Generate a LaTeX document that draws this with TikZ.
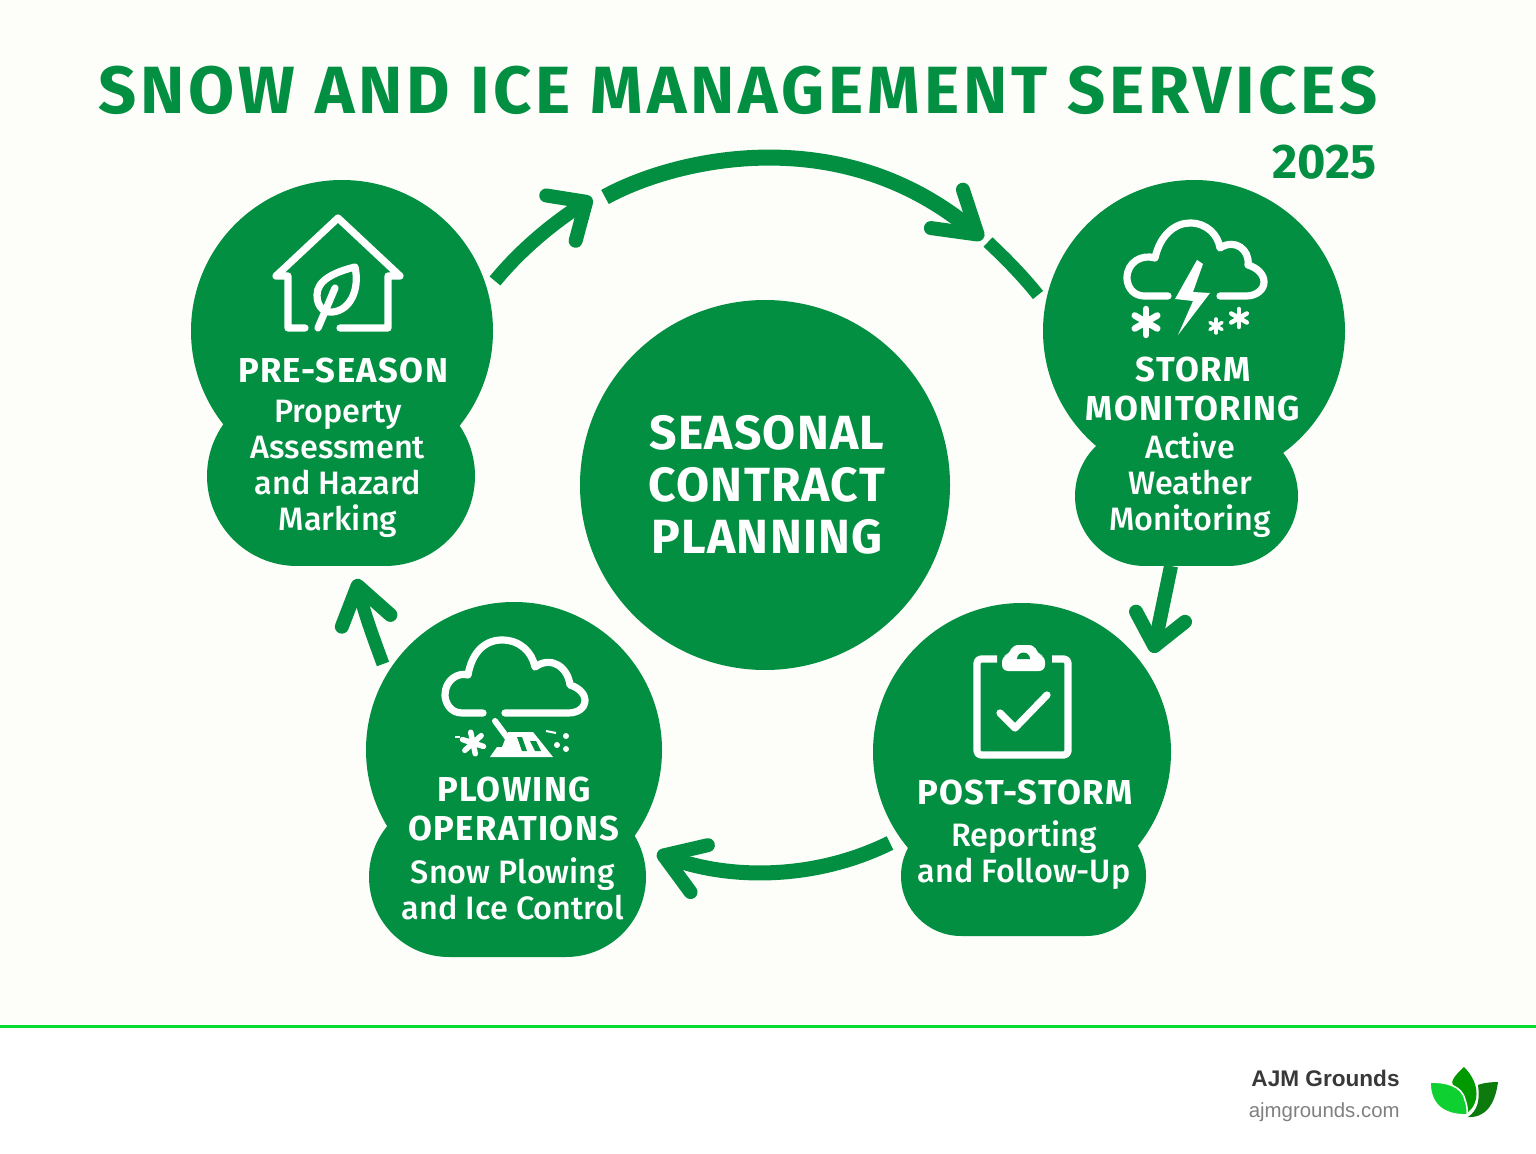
\documentclass[tikz,border=0pt]{standalone}
\usepackage{fontspec}
\setmainfont{Fira Sans}
\newfontfamily\bodyfont{Fira Sans Medium}
\newfontfamily\footfont{Liberation Sans}
\newfontfamily\titlefont[LetterSpace=5.9]{Fira Sans}
\newfontfamily\headfont[LetterSpace=4]{Fira Sans}
\newfontfamily\hubfont[LetterSpace=2.5]{Fira Sans}
\usepackage{xcolor}
\usetikzlibrary{arrows.meta,shapes}

\definecolor{leaf}{RGB}{2,143,66}
\definecolor{paper}{RGB}{253,253,249}
\definecolor{rule}{RGB}{5,222,48}

\tikzset{
	disc/.style={circle,fill=leaf,inner sep=0pt,minimum size=#1*0.5pt},
	lobe/.style n args={3}{rectangle,fill=leaf,inner sep=0pt,minimum width=#1*0.5pt,minimum height=#2*0.5pt,rounded corners=#3*0.5pt},
	head/.style={text=white,align=center,font=\fontsize{17.3}{19.2}\selectfont\headfont\bfseries},
	body/.style={text=white,align=center,font=\fontsize{16.2}{18}\selectfont\bodyfont},
	flow/.style={draw=leaf,line width=#1},
	flow/.default=7pt,
	tip/.style 2 args={-{Straight Barb[length=#1pt,width=#2pt,round,line width=7pt]}},
	icon/.style={draw=white,line width=3.6pt,line cap=round,line join=round},
	flake/.pic={\foreach \a in {90,30,150}{\draw[white,line width=#1*0.25pt,line cap=round] (\a:#1*1.0) -- (\a+180:#1*1.0);}},
}

\begin{document}
\begin{tikzpicture}[x=0.5pt,y=-0.5pt]
	\useasboundingbox (0,0) rectangle (1536,1154);
	\fill[paper] (0,0) rectangle (1536,1026);
	\fill[rule] (0,1024.5) rectangle (1536,1027.5);
	%
	\node[anchor=base west,text=leaf,font=\fontsize{33.4}{36}\selectfont\titlefont\bfseries,inner sep=0pt] (title) at (98,114) {SNOW AND ICE MANAGEMENT SERVICES};
	\node[anchor=base east,text=leaf,font=\fontsize{24.3}{26}\selectfont\bfseries,inner sep=0pt] (year) at (1377,179) {2025};
	%
	\node[disc=302] (preseason) at (342,331) {};
	\node[lobe={268}{180}{90}] (preseasonlow) at (341,476) {};
	\node[disc=302] (storm) at (1194,331) {};
	\node[lobe={223}{140}{70}] (stormlow) at (1186.5,496) {};
	\node[disc=296] (plowing) at (514,750) {};
	\node[lobe={277}{160}{80}] (plowinglow) at (507.5,877) {};
	\node[disc=298] (poststorm) at (1022,752) {};
	\node[lobe={245}{120}{60}] (poststormlow) at (1023.5,876) {};
	\node[disc=370] (contract) at (765,485) {};
	%
	\node[text=white,align=center,font=\fontsize{24}{26}\selectfont\hubfont\bfseries] (contracttext) at (767,485) {SEASONAL\\CONTRACT\\PLANNING};
	\node[head] (preseasonhead) at (343,371) {PRE-SEASON};
	\node[body] (preseasontext) at (338,468.5) {Property\\Assessment\\and Hazard\\Marking};
	\node[head] (stormhead) at (1193,389) {STORM\\MONITORING};
	\node[body] (stormtext) at (1190,485) {Active\\Weather\\Monitoring};
	\node[head] (plowinghead) at (514,809) {PLOWING\\OPERATIONS};
	\node[body] (plowingtext) at (513,889) {Snow Plowing\\and Ice Control};
	\node[head] (poststormhead) at (1025,793) {POST-STORM};
	\node[body] (poststormtext) at (1024,855) {Reporting\\and Follow-Up};
	%
	\coordinate (topa) at (592,198);
	\coordinate (topb) at (605,197);
	\coordinate (topc) at (983,239);
	\coordinate (topd) at (988,242);
	\coordinate (preout) at (495,281);
	\coordinate (stormin) at (1038,295);
	\coordinate (stormout) at (1171,566);
	\coordinate (postin) at (1153,653);
	\coordinate (postout) at (890,843);
	\coordinate (plowin) at (657,853);
	\coordinate (plowout) at (383,664);
	\coordinate (prein) at (356,579);
	%
	\draw[flow,tip={15}{27}] (preout) .. controls (522,248) and (555,222) .. (topa);
	\draw[flow=8pt,tip={20}{25}] (topb) .. controls (672,160) and (838,118) .. (topc);
	\draw[flow=6.5pt] (topd) .. controls (1005,258) and (1022,275) .. (stormin);
	\draw[flow,tip={15}{25}] (stormout) -- (postin);
	\draw[flow=7.5pt,tip={19}{25}] (postout) .. controls (815,880) and (730,880) .. (plowin);
	\draw[flow=6.5pt,tip={18}{25}] (plowout) .. controls (373,637) and (364,612) .. (prein);
	%
	% house
	\draw[icon] (305,328) -- (288,328) -- (288,276) -- (276,276) -- (338,218) -- (400,276) -- (388,276) -- (388,328) -- (340,328);
	\draw[icon] (355,267) .. controls (335,272) and (317,280) .. (317,295) .. controls (317,308) and (325,313) .. (333,312) .. controls (350,310) and (360,290) .. (355,267) -- cycle;
	\draw[icon] (335,288) -- (318,328);
	% storm cloud
	\draw[icon] (1168,296) -- (1145,296) .. controls (1130,296) and (1127,283) .. (1127,278) .. controls (1127,262) and (1142,254) .. (1155,258) .. controls (1160,235) and (1175,223) .. (1190,223) .. controls (1207,223) and (1218,235) .. (1220,248) .. controls (1235,238) and (1250,250) .. (1248,265) .. controls (1258,268) and (1264,275) .. (1264,282) .. controls (1264,290) and (1256,296) .. (1246,296) -- (1220,296);
	\fill[white] (1197,260) -- (1203,264) -- (1193,292) -- (1210,293) -- (1178,335) -- (1193,301) -- (1175,299) -- cycle;
	\pic at (1146,322) {flake=13};
	\pic at (1216,326) {flake=7};
	\pic at (1239,318) {flake=9};
	% plow cloud
	\draw[icon] (483,713) -- (462,713) .. controls (450,713) and (445,702) .. (445,695) .. controls (445,680) and (458,672) .. (468,675) .. controls (472,652) and (485,640) .. (502,640) .. controls (520,640) and (532,652) .. (535,667) .. controls (552,655) and (568,668) .. (570,685) .. controls (580,688) and (585,695) .. (585,700) .. controls (585,708) and (578,713) .. (568,713) -- (505,713);
	\fill[white] (490,757) -- (497,747) -- (502,747) -- (508,732) -- (533,732) -- (553,757) -- cycle;
	\draw[icon,line width=3pt] (495,721) -- (512,744);
	\fill[leaf] (517,737) -- (522,737) -- (527,751) -- (522,751) -- cycle;
	\fill[leaf] (530,741) -- (536,741) -- (541,751) -- (535,751) -- cycle;
	\pic[rotate=12] at (473,743) {flake=11};
	\fill[white] (566,736) circle (3);
	\fill[white] (557,745) circle (3);
	\fill[white] (566,749) circle (3);
	\draw[white,line width=1pt] (546,731) -- (556,733);
	\draw[white,line width=0.6pt] (455,737) -- (460,737);
	% clipboard
	\draw[icon,line cap=butt,rounded corners=2pt] (997,659) -- (977,659) -- (977,755) -- (1068,755) -- (1068,659) -- (1052,659);
	\fill[white,rounded corners=3pt] (1002,671) -- (1002,656) -- (1010,654) -- (1012,645) -- (1035,645) -- (1037,654) -- (1045,656) -- (1045,671) -- cycle;
	\fill[leaf] (1017,659) -- (1030,659) arc[start angle=0,end angle=-180,radius=6.5] -- cycle;
	\draw[icon] (1000,713) -- (1015,728) -- (1047,695);
	%
	\node[anchor=base east,inner sep=0pt,text=black!78,font=\fontsize{11.3}{14}\selectfont\footfont\bfseries] (brand) at (1400,1086) {AJM Grounds};
	\node[anchor=base east,inner sep=0pt,text=black!50,font=\fontsize{10.2}{12}\selectfont\footfont] (site) at (1400,1117) {ajmgrounds.com};
	% leaves
	\fill[green!45!black!95] (1498,1082) .. controls (1485,1082) and (1478,1085) .. (1478,1085) .. controls (1480,1100) and (1478,1110) .. (1468,1117) .. controls (1485,1118) and (1495,1105) .. (1498,1082) -- cycle;
	\fill[green!60!black] (1464,1067) .. controls (1455,1075) and (1450,1082) .. (1453,1085) .. controls (1462,1095) and (1468,1105) .. (1468,1112) .. controls (1478,1105) and (1482,1085) .. (1464,1067) -- cycle;
	\draw[white,line width=0.8pt,fill={rgb,255:red,14;green,208;blue,48}] (1430,1082) .. controls (1445,1082) and (1462,1085) .. (1465,1100) .. controls (1468,1108) and (1467,1112) .. (1467,1115) .. controls (1450,1115) and (1430,1110) .. (1430,1082) -- cycle;
\end{tikzpicture}
\end{document}
